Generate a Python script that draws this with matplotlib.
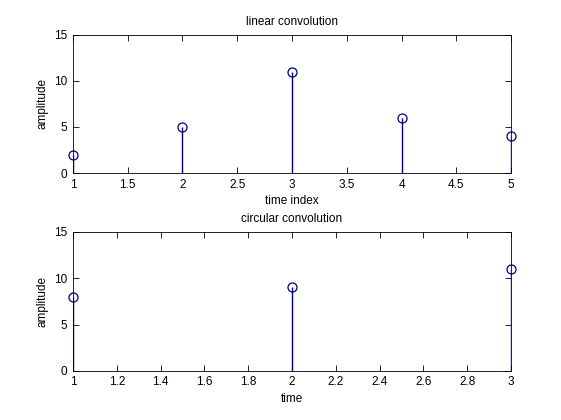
import matplotlib
matplotlib.use("Agg")
import matplotlib.pyplot as plt
import numpy as np

# linear convolution result
lin_n = [1, 2, 3, 4, 5]
lin_y = [2, 5, 11, 6, 4]
# circular convolution result
circ_n = [1, 2, 3]
circ_y = [8, 9, 11]

plt.rcParams['font.family'] = ['Liberation Sans', 'DejaVu Sans']
plt.rcParams['font.size'] = 8.5

fig = plt.figure(figsize=(5.61, 4.2), dpi=100)
ax1 = fig.add_axes([0.130, 0.588, 0.781, 0.329])
ax2 = fig.add_axes([0.130, 0.117, 0.781, 0.331])

col = '#000080'


def stemplot(ax, x, y):
    ml, sl, bl = ax.stem(x, y, basefmt=' ')
    plt.setp(sl, color=col, linewidth=1)
    plt.setp(ml, markerfacecolor='none', markeredgecolor=col, markersize=6.5,
             markeredgewidth=0.9, clip_on=False)
    ax.tick_params(direction='in', top=True, right=True, length=4, width=0.6, pad=4)
    for s in ax.spines.values():
        s.set_linewidth(0.6)


stemplot(ax1, lin_n, lin_y)
ax1.set_xlim(1, 5)
ax1.set_ylim(0, 15)
ax1.set_xticks(np.arange(1, 5.01, 0.5))
ax1.set_xticklabels(['1', '1.5', '2', '2.5', '3', '3.5', '4', '4.5', '5'])
ax1.set_yticks([0, 5, 10, 15])
ax1.set_xlabel('time index', labelpad=3)
ax1.set_ylabel('amplitude')
ax1.set_title('linear convolution', fontsize=8.5, pad=7)

stemplot(ax2, circ_n, circ_y)
ax2.set_xlim(1, 3)
ax2.set_ylim(0, 15)
ax2.set_xticks(np.arange(1, 3.01, 0.2))
ax2.set_xticklabels(['1', '1.2', '1.4', '1.6', '1.8', '2', '2.2', '2.4', '2.6', '2.8', '3'])
ax2.set_yticks([0, 5, 10, 15])
ax2.set_xlabel('time', labelpad=3)
ax2.set_ylabel('amplitude')
ax2.set_title('circular convolution', fontsize=8.5, pad=7)

fig.savefig('out.png', dpi=100)
